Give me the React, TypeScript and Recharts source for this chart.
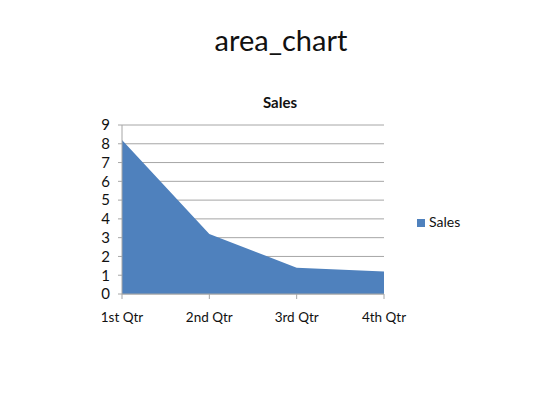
import React from 'react';
import { AreaChart, Area, XAxis, YAxis, CartesianGrid, Legend } from 'recharts';

const categories = ['1st Qtr', '2nd Qtr', '3rd Qtr', '4th Qtr'];
const salesValues = [8.2, 3.2, 1.4, 1.2];
const yTicks = [0, 1, 2, 3, 4, 5, 6, 7, 8, 9];

const data = categories.map((c, i) => ({ name: c, Sales: salesValues[i] }));

const FONT = 'Lato, "Open Sans", "Liberation Sans", sans-serif';

export default function App() {
  return (
    <div style={{ position: 'absolute', left: 0, top: 0, width: 560, height: 420, background: '#fff', fontFamily: FONT }}>
      <div style={{ position: 'absolute', left: 0, top: 22, width: 562, textAlign: 'center', fontSize: 29, color: '#111' }}>
        area_chart
      </div>
      <div style={{ position: 'absolute', left: 0, top: 93, width: 560, textAlign: 'center', fontSize: 15, fontWeight: 700, color: '#111' }}>
        Sales
      </div>
      <div style={{ position: 'absolute', left: 0, top: 0 }}>
        <AreaChart width={560} height={420} data={data} margin={{ top: 125, right: 176, bottom: 79, left: 92 }}>
          <CartesianGrid vertical={false} stroke="#a6a6a6" strokeWidth={1} />
          <XAxis
            dataKey="name"
            stroke="#a6a6a6"
            tickLine={{ stroke: '#a6a6a6' }}
            tickSize={5}
            tickMargin={13}
            height={30}
            interval={0}
            tick={{ fill: '#111', fontSize: 13.5, fontFamily: FONT }}
          />
          <YAxis
            domain={[0, 9]}
            ticks={yTicks}
            interval={0}
            stroke="#a6a6a6"
            tickLine={{ stroke: '#a6a6a6' }}
            tickSize={4}
            tickMargin={8}
            width={30}
            tick={{ fill: '#111', fontSize: 15, fontFamily: FONT }}
          />
          <Area
            type="linear"
            dataKey="Sales"
            stroke="none"
            fill="#4f81bd"
            fillOpacity={1}
            isAnimationActive={false}
            dot={false}
            activeDot={false}
          />
          <Legend
            layout="vertical"
            iconType="square"
            iconSize={8}
            wrapperStyle={{ position: 'absolute', left: 417, top: 213, width: 80, fontSize: 14, fontFamily: FONT }}
            formatter={(v) => <span style={{ color: '#111' }}>{v}</span>}
          />
        </AreaChart>
      </div>
    </div>
  );
}
